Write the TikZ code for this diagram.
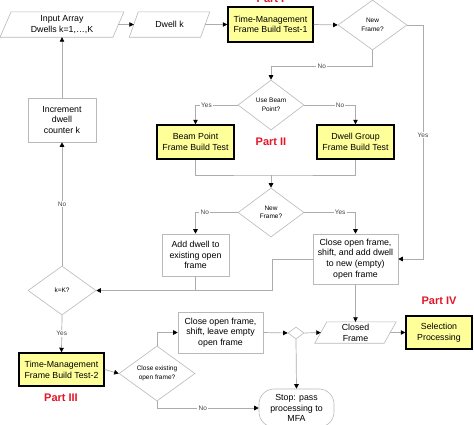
\documentclass[tikz,border=0pt]{standalone}
\usepackage{fontspec}
\setmainfont{Liberation Sans}
\usetikzlibrary{shapes.geometric,arrows.meta,calc}
\definecolor{linegray}{RGB}{172,172,172}
\definecolor{boxgray}{RGB}{185,185,185}
\definecolor{yfill}{RGB}{255,255,153}
\definecolor{partred}{RGB}{228,22,40}
\definecolor{labgray}{RGB}{70,70,70}
\newcommand\drawpara[2]{\draw[boxline] ($(#1.south west)+(-#2,0)$) -- ($(#1.north west)+(#2,0)$) -- ($(#1.north east)+(#2,0)$) -- ($(#1.south east)+(-#2,0)$) -- cycle;}
\begin{document}
\begin{tikzpicture}[x=1pt,y=-1pt,
  boxline/.style={draw=boxgray, line width=0.6pt},
  line/.style={draw=linegray, line width=0.7pt},
  arr/.style={line, -{Triangle[length=4.5pt,width=4.5pt,color=black]}},
  btext/.style={font=\fontsize{8.8}{10.7}\selectfont, align=center, inner sep=0pt},
  ybox/.style={btext, rectangle, draw=black, line width=1.5pt, fill=yfill},
  gbox/.style={btext, rectangle, boxline, fill=white},
  pbox/.style={btext, rectangle, draw=none},
  dia/.style={diamond, boxline, fill=white, font=\fontsize{6.5}{8.5}\selectfont, align=center, inner sep=0pt},
  lab/.style={fill=white, font=\fontsize{6.5}{7}\selectfont, text=labgray, inner sep=1.2pt},
  partlab/.style={text=partred, font=\bfseries\fontsize{11}{12}\selectfont, inner sep=0pt}
]
\fill[white] (0,0) rectangle (474,424);
\useasboundingbox (0,0) rectangle (474,424);

% nodes
\node[pbox, minimum width=112.5pt, minimum height=25pt] (in) at (62,24.5) {Input Array\\Dwells k=1,…,K};
\drawpara{in}{5.5}
\node[pbox, minimum width=71pt, minimum height=25pt] (dk) at (169.5,24.5) {Dwell k};
\drawpara{dk}{4.5}
\node[ybox, minimum width=85pt, minimum height=35pt] (tm1) at (270.5,24.5) {Time-Management\\Frame Build Test-1};
\node[partlab, anchor=base] (p1) at (270.5,2) {Part I};
\node[dia, minimum width=69pt, minimum height=50pt] (d1) at (372.5,25) {New\\Frame?};

\node[dia, minimum width=66pt, minimum height=50pt] (d2) at (271,105) {Use Beam\\Point?};
\node[ybox, minimum width=77pt, minimum height=34pt] (bp) at (195.5,142) {Beam Point\\Frame Build Test};
\node[ybox, minimum width=77pt, minimum height=34pt] (dg) at (355.5,142) {Dwell Group\\Frame Build Test};
\node[partlab] (p2) at (271,142) {Part II};

\node[dia, minimum width=66pt, minimum height=49pt] (d3) at (271,212.5) {New\\Frame?};
\node[gbox, minimum width=67pt, minimum height=42pt] (ad) at (195.5,255) {Add dwell to\\existing open\\frame};
\node[gbox, minimum width=85pt, minimum height=50pt] (cl1) at (355.5,259) {Close open frame,\\shift, and add dwell\\to new (empty)\\open frame};

\node[gbox, minimum width=68pt, minimum height=44pt] (inc) at (62,120) {Increment\\dwell\\counter k};
\node[dia, minimum width=68pt, minimum height=49pt] (kk) at (62,290.5) {k=K?};

\node[ybox, minimum width=85pt, minimum height=33pt] (tm2) at (61.5,369.5) {Time-Management\\Frame Build Test-2};
\node[partlab] (p3) at (61,398) {Part III};
\node[dia, minimum width=76pt, minimum height=49pt] (d4) at (157,373.5) {Close existing\\open frame?};
\node[gbox, minimum width=85pt, minimum height=41pt] (cl2) at (220.5,332.5) {Close open frame,\\shift, leave empty\\open frame};
\node[dia, minimum width=16pt, minimum height=12pt] (sd) at (296,333) {};
\node[pbox, minimum width=69pt, minimum height=21pt] (cf) at (355.5,332.5) {Closed\\Frame};
\drawpara{cf}{6}
\node[ybox, minimum width=66pt, minimum height=33pt] (sel) at (439,332.5) {Selection\\Processing};
\node[partlab] (p4) at (439,301) {Part IV};
\node[gbox, rounded corners=15pt, minimum width=75pt, minimum height=38pt] (stop) at (296.5,408) {Stop: pass\\processing to\\MFA};

% helper coordinates
\coordinate (r1) at (423,25);
\coordinate (m) at (271,175);
\coordinate (j2) at (272,290.5);

% connectors
\draw[arr] (in.east) -- (dk.west);
\draw[arr] (dk.east) -- (tm1.west);
\draw[arr] (tm1.east) -- (d1.west);
\draw[arr] (d1.east) -- (r1) -- (r1 |- cl1.east) node[lab, pos=0.47] {Yes} -- (cl1.east);
\draw[arr] (d1.south) |- node[lab, pos=0.75] {No} ($(d2.north)+(0,-13)$) -- (d2.north);
\draw[arr] (d2.west) -| node[lab, pos=0.37] {Yes} (bp.north);
\draw[arr] (d2.east) -| node[lab, pos=0.35] {No} (dg.north);
\draw[line] (bp.south) |- (m) -| (dg.south);
\draw[arr] (m) -- (d3.north);
\draw[arr] (d3.west) -| node[lab, pos=0.39] {No} (ad.north);
\draw[arr] (d3.east) -| node[lab, pos=0.35] {Yes} (cl1.north);
\draw[line] (ad.south) -- (ad.south |- kk.east);
\draw[arr] (cl1.west) -| (j2) -- (kk.east);
\draw[arr] (kk.north) -- node[lab] {No} (inc.south);
\draw[arr] (inc.north) -- (in.south);
\draw[arr] (kk.south) -- node[lab] {Yes} (tm2.north);
\draw[arr] (tm2.east) -- (d4.west);
\draw[arr] (d4.north) |- (cl2.west);
\draw[arr] (d4.south) |- node[lab, pos=0.725] {No} (stop.west);
\draw[arr] (cl2.east) -- (sd.west);
\draw[arr] (sd.east) -- (cf.west);
\draw[arr] (cl1.south) -- (cf.north);
\draw[arr] (cf.east) -- (sel.west);
\draw[arr] (sd.south) -- (stop.north);
\end{tikzpicture}
\end{document}
